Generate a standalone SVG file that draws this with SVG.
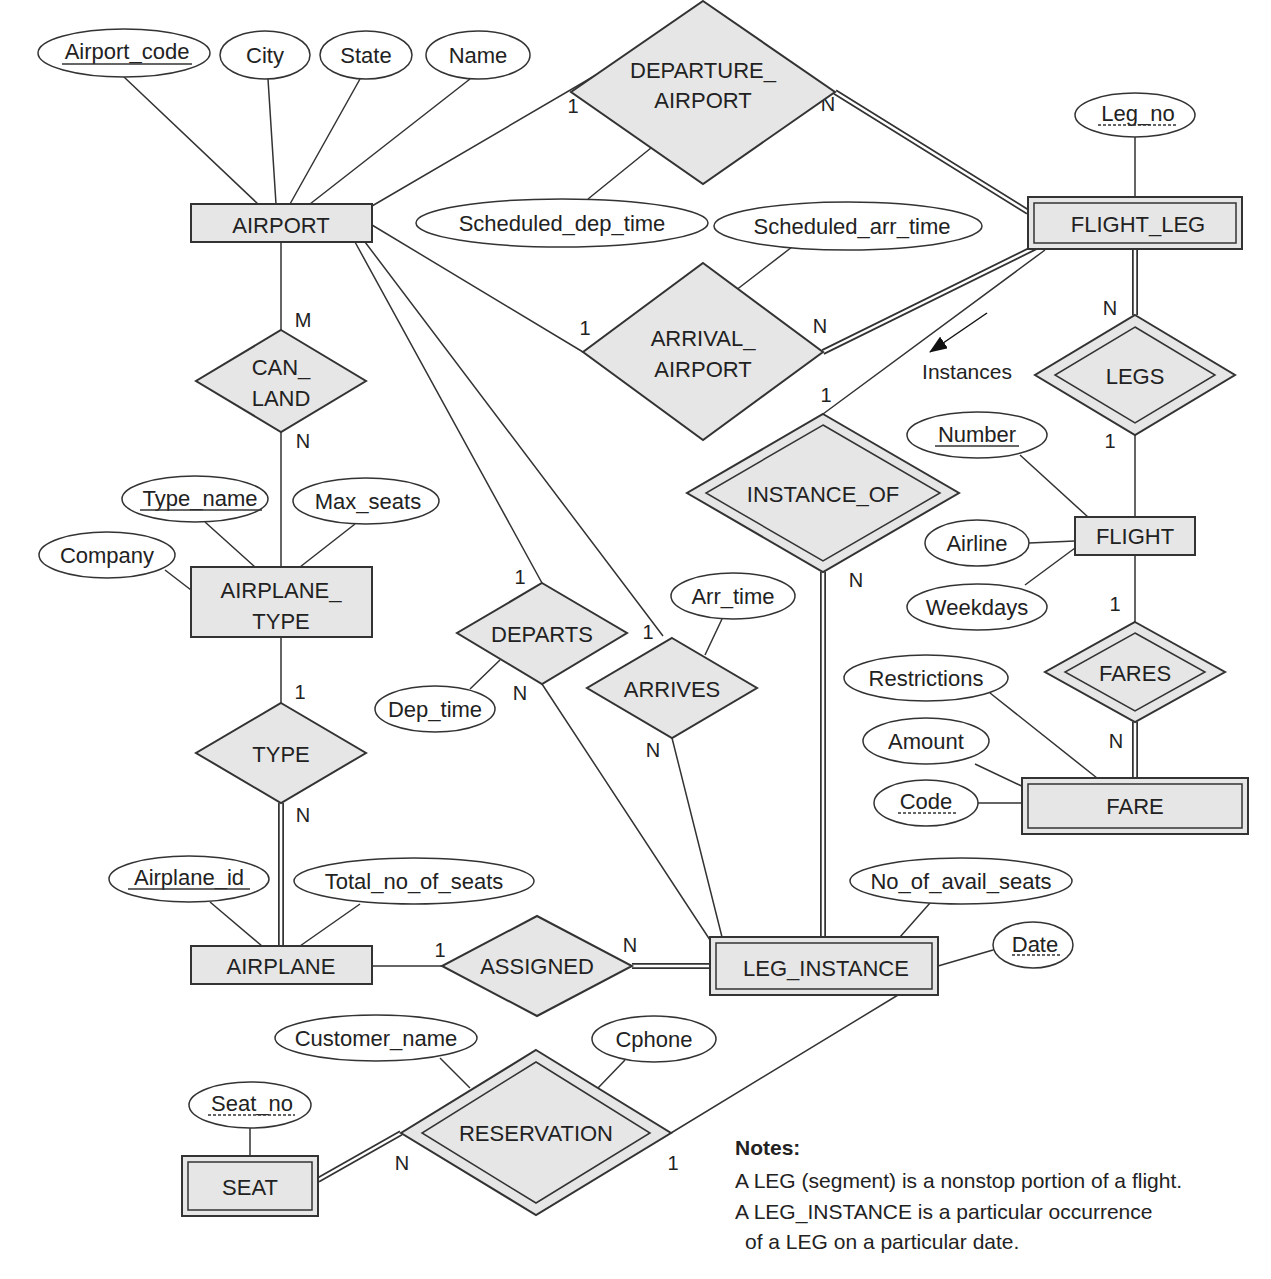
<svg xmlns="http://www.w3.org/2000/svg" width="1271" height="1279" viewBox="0 0 1271 1279">
<style>
text{font-family:"Liberation Sans",Arial,sans-serif;font-size:22px;fill:#222;text-anchor:middle;dominant-baseline:central}
.lab{font-size:20px}
.ent{fill:#e6e6e6;stroke:#333;stroke-width:2}
.in{fill:none;stroke:#333;stroke-width:1.5}
.att{fill:#fff;stroke:#333;stroke-width:1.5}
.ln{stroke:#333;stroke-width:1.5;fill:none}
.dbo{stroke:#333;stroke-width:6;fill:none}
.dbi{stroke:#fff;stroke-width:2.5;fill:none}
.u{stroke:#333;stroke-width:1.3}
.ud{stroke:#333;stroke-width:1.3;stroke-dasharray:3,2}
.note{text-anchor:start;font-size:21px}
</style>
<defs><marker id="ah" markerWidth="18" markerHeight="14" refX="17" refY="7" orient="auto" markerUnits="userSpaceOnUse"><path d="M0,0 L18,7 L0,14 Z" fill="#111"/></marker></defs>
<g id="connectors">
<path class="ln" d="M124,77L258,204M268,79L276,204M360,79L290,204M470,79L310,204"/>
<path class="ln" d="M372,206L596,75M667,135L588,199M372,225L583,352M792,247L731,294"/>
<path class="ln" d="M355,242L542,583M365,242L663,636M542,684L710,940M672,738L722,937M470,689L500,660M722,619L705,655"/>
<path class="ln" d="M281,242L281,330M281,432L281,567M205,522L255,567M355,524L300,567M165,570L191,590M281,637L281,703"/>
<path class="ln" d="M210,902L262,946M360,904L300,946M372,966L442,966M930,903L900,937M993,950L938,966"/>
<path class="ln" d="M1045,250L823,414M1135,137L1135,197M1135,435L1135,517M1020,455L1088,517M1029,543L1075,541M1025,585L1075,548M1135,555L1135,622"/>
<path class="ln" d="M990,693L1097,778M975,764L1030,790M978,803L1022,803M898,995L671,1133M440,1058L470,1088M625,1060L598,1088M250,1127L250,1156"/>
<path class="dbo" d="M835,92L1028,212M823,352L1040,245M281,803L281,946M632,966L710,966M823,572L823,937M1135,249L1135,315M1135,722L1135,778M401,1133L318,1180"/>
<path class="dbi" d="M835,92L1028,212M823,352L1040,245M281,803L281,946M632,966L710,966M823,572L823,937M1135,249L1135,315M1135,722L1135,778M401,1133L318,1180"/>
<line x1="987" y1="313" x2="930" y2="352" stroke="#111" stroke-width="1.5" marker-end="url(#ah)"/>
</g>
<g id="labels" class="lab">
<text x="573" y="106" class="lab">1</text><text x="828" y="104" class="lab">N</text>
<text x="585" y="328" class="lab">1</text><text x="820" y="326" class="lab">N</text>
<text x="303" y="320" class="lab">M</text><text x="303" y="441" class="lab">N</text>
<text x="300" y="692" class="lab">1</text><text x="303" y="815" class="lab">N</text>
<text x="520" y="577" class="lab">1</text><text x="520" y="693" class="lab">N</text>
<text x="648" y="632" class="lab">1</text><text x="653" y="750" class="lab">N</text>
<text x="440" y="950" class="lab">1</text><text x="630" y="945" class="lab">N</text>
<text x="826" y="395" class="lab">1</text><text x="856" y="580" class="lab">N</text>
<text x="1110" y="308" class="lab">N</text><text x="1110" y="441" class="lab">1</text>
<text x="1115" y="604" class="lab">1</text><text x="1116" y="741" class="lab">N</text>
<text x="673" y="1163" class="lab">1</text><text x="402" y="1163" class="lab">N</text>
<text x="967" y="371" style="font-size:21px">Instances</text>
</g>
<g id="AIRPORT"><rect class="ent" x="191" y="204" width="181" height="38"/><text x="281" y="225">AIRPORT</text></g>
<g id="FLIGHT_LEG"><rect class="ent" x="1028" y="197" width="214" height="52"/><rect class="in" x="1034" y="203" width="202" height="40"/><text x="1138" y="224">FLIGHT_LEG</text></g>
<g id="AIRPLANE_TYPE"><rect class="ent" x="191" y="567" width="181" height="70"/><text x="281" y="590">AIRPLANE_</text><text x="281" y="621">TYPE</text></g>
<g id="AIRPLANE"><rect class="ent" x="191" y="946" width="181" height="38"/><text x="281" y="966">AIRPLANE</text></g>
<g id="LEG_INSTANCE"><rect class="ent" x="710" y="937" width="228" height="58"/><rect class="in" x="716" y="943" width="216" height="46"/><text x="826" y="968">LEG_INSTANCE</text></g>
<g id="FLIGHT"><rect class="ent" x="1075" y="517" width="120" height="38"/><text x="1135" y="536">FLIGHT</text></g>
<g id="FARE"><rect class="ent" x="1022" y="778" width="226" height="56"/><rect class="in" x="1028" y="784" width="214" height="44"/><text x="1135" y="806">FARE</text></g>
<g id="SEAT"><rect class="ent" x="182" y="1156" width="136" height="60"/><rect class="in" x="188" y="1162" width="124" height="48"/><text x="250" y="1187">SEAT</text></g>
<g id="DEPARTURE_AIRPORT"><polygon class="ent" points="703,1 835,92 703,184 571,92"/><text x="703" y="70">DEPARTURE_</text><text x="703" y="100">AIRPORT</text></g>
<g id="ARRIVAL_AIRPORT"><polygon class="ent" points="703,263 823,352 703,440 583,352"/><text x="703" y="338">ARRIVAL_</text><text x="703" y="369">AIRPORT</text></g>
<g id="CAN_LAND"><polygon class="ent" points="281,330 366,381 281,432 196,381"/><text x="281" y="367">CAN_</text><text x="281" y="398">LAND</text></g>
<g id="TYPE"><polygon class="ent" points="281,703 366,753 281,803 196,753"/><text x="281" y="754">TYPE</text></g>
<g id="DEPARTS"><polygon class="ent" points="542,583 627,633 542,684 457,633"/><text x="542" y="634">DEPARTS</text></g>
<g id="ARRIVES"><polygon class="ent" points="672,638 757,688 672,738 587,688"/><text x="672" y="689">ARRIVES</text></g>
<g id="ASSIGNED"><polygon class="ent" points="537,916 632,966 537,1016 442,966"/><text x="537" y="966">ASSIGNED</text></g>
<g id="INSTANCE_OF"><polygon class="ent" points="823,414 959,493 823,572 687,493"/><polygon class="in" points="823,425 940,493 823,561 706,493"/><text x="823" y="494">INSTANCE_OF</text></g>
<g id="LEGS"><polygon class="ent" points="1135,315 1235,375 1135,435 1035,375"/><polygon class="in" points="1135,327 1215,375 1135,423 1055,375"/><text x="1135" y="376">LEGS</text></g>
<g id="FARES"><polygon class="ent" points="1135,622 1225,672 1135,722 1045,672"/><polygon class="in" points="1135,633 1205,672 1135,711 1065,672"/><text x="1135" y="673">FARES</text></g>
<g id="RESERVATION"><polygon class="ent" points="536,1050 671,1133 536,1215 401,1133"/><polygon class="in" points="536,1062 650,1133 536,1203 422,1133"/><text x="536" y="1133">RESERVATION</text></g>
<g id="Airport_code"><ellipse class="att" cx="124" cy="53" rx="86" ry="24"/><text x="127" y="51">Airport_code</text><line class="u" x1="62" y1="64" x2="192" y2="64"/></g>
<g id="City"><ellipse class="att" cx="265" cy="55" rx="45" ry="24"/><text x="265" y="55">City</text></g>
<g id="State"><ellipse class="att" cx="366" cy="55" rx="46" ry="24"/><text x="366" y="55">State</text></g>
<g id="Name"><ellipse class="att" cx="478" cy="55" rx="52" ry="24"/><text x="478" y="55">Name</text></g>
<g id="Leg_no"><ellipse class="att" cx="1135" cy="115" rx="60" ry="22"/><text x="1138" y="113">Leg_no</text><line class="ud" x1="1098" y1="125" x2="1178" y2="125"/></g>
<g id="Scheduled_dep_time"><ellipse class="att" cx="562" cy="223" rx="146" ry="24"/><text x="562" y="223">Scheduled_dep_time</text></g>
<g id="Scheduled_arr_time"><ellipse class="att" cx="848" cy="226" rx="134" ry="24"/><text x="852" y="226">Scheduled_arr_time</text></g>
<g id="Type_name"><ellipse class="att" cx="195" cy="499" rx="73" ry="23"/><text x="200" y="498">Type_name</text><line class="u" x1="140" y1="510" x2="262" y2="510"/></g>
<g id="Max_seats"><ellipse class="att" cx="366" cy="501" rx="73" ry="23"/><text x="368" y="501">Max_seats</text></g>
<g id="Company"><ellipse class="att" cx="107" cy="555" rx="68" ry="23"/><text x="107" y="555">Company</text></g>
<g id="Number"><ellipse class="att" cx="977" cy="435" rx="70" ry="23"/><text x="977" y="434">Number</text><line class="u" x1="935" y1="446" x2="1019" y2="446"/></g>
<g id="Airline"><ellipse class="att" cx="977" cy="543" rx="52" ry="23"/><text x="977" y="543">Airline</text></g>
<g id="Weekdays"><ellipse class="att" cx="977" cy="607" rx="70" ry="23"/><text x="977" y="607">Weekdays</text></g>
<g id="Arr_time"><ellipse class="att" cx="733" cy="596" rx="62" ry="23"/><text x="733" y="596">Arr_time</text></g>
<g id="Dep_time"><ellipse class="att" cx="435" cy="709" rx="60" ry="23"/><text x="435" y="709">Dep_time</text></g>
<g id="Restrictions"><ellipse class="att" cx="926" cy="678" rx="82" ry="23"/><text x="926" y="678">Restrictions</text></g>
<g id="Amount"><ellipse class="att" cx="926" cy="741" rx="63" ry="23"/><text x="926" y="741">Amount</text></g>
<g id="Code"><ellipse class="att" cx="926" cy="803" rx="52" ry="23"/><text x="926" y="801">Code</text><line class="ud" x1="898" y1="813" x2="956" y2="813"/></g>
<g id="Airplane_id"><ellipse class="att" cx="189" cy="879" rx="80" ry="23"/><text x="189" y="877">Airplane_id</text><line class="u" x1="128" y1="889" x2="250" y2="889"/></g>
<g id="Total_no_of_seats"><ellipse class="att" cx="414" cy="881" rx="120" ry="23"/><text x="414" y="881">Total_no_of_seats</text></g>
<g id="No_of_avail_seats"><ellipse class="att" cx="961" cy="881" rx="111" ry="23"/><text x="961" y="881">No_of_avail_seats</text></g>
<g id="Date"><ellipse class="att" cx="1033" cy="945" rx="40" ry="23"/><text x="1035" y="944">Date</text><line class="ud" x1="1012" y1="955" x2="1060" y2="955"/></g>
<g id="Customer_name"><ellipse class="att" cx="376" cy="1038" rx="101" ry="23"/><text x="376" y="1038">Customer_name</text></g>
<g id="Cphone"><ellipse class="att" cx="654" cy="1039" rx="62" ry="23"/><text x="654" y="1039">Cphone</text></g>
<g id="Seat_no"><ellipse class="att" cx="250" cy="1105" rx="61" ry="23"/><text x="252" y="1103">Seat_no</text><line class="ud" x1="208" y1="1115" x2="295" y2="1115"/></g>
<g id="notes">
<text class="note" x="735" y="1147" font-weight="bold">Notes:</text>
<text class="note" x="735" y="1180">A LEG (segment) is a nonstop portion of a flight.</text>
<text class="note" x="735" y="1211">A LEG_INSTANCE is a particular occurrence</text>
<text class="note" x="745" y="1241">of a LEG on a particular date.</text>
</g>
</svg>
